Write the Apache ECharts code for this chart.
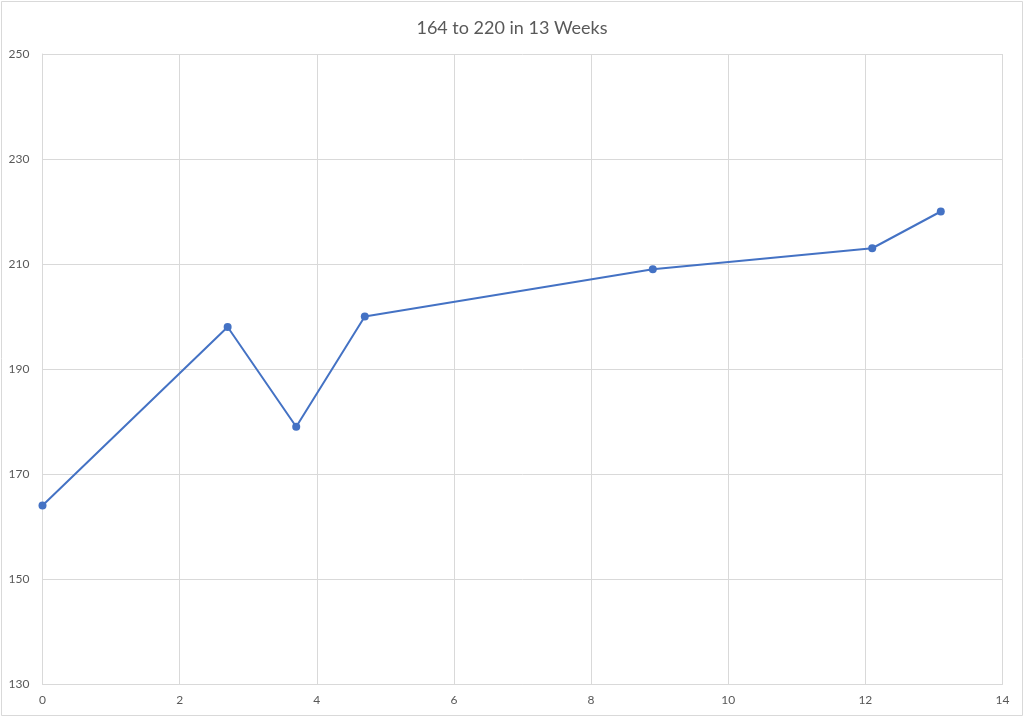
<!DOCTYPE html>
<html>
<head>
<meta charset="utf-8">
<script src="https://cdn.jsdelivr.net/npm/echarts@6/dist/echarts.min.js"></script>
<style>
html,body{margin:0;padding:0;background:#fff;}
#c{width:1024px;height:717px;}
</style>
</head>
<body>
<div id="c"></div>
<script>
const title = "164 to 220 in 13 Weeks";
const weeks = [0, 2.7, 3.7, 4.7, 8.9, 12.1, 13.1];
const weights = [164, 198, 179, 200, 209, 213, 220];

const chart = echarts.init(document.getElementById('c'), null, {renderer: 'canvas'});
const font = 'Lato, "Open Sans", "Liberation Sans", sans-serif';
chart.setOption({
  animation: false,
  backgroundColor: '#fff',
  title: {
    text: title, left: 'center', top: 14,
    textStyle: {fontFamily: font, fontSize: 18, fontWeight: 'normal', color: '#595959'}
  },
  graphic: [{
    type: 'rect', shape: {x: 1.5, y: 1.5, width: 1021, height: 714},
    style: {fill: 'none', stroke: '#d9d9d9', lineWidth: 1}, silent: true
  }],
  grid: {left: 42.5, right: 21.5, top: 54, bottom: 33, containLabel: false},
  xAxis: {
    type: 'value', min: 0, max: 14, interval: 2,
    axisLine: {show: true, lineStyle: {color: '#d9d9d9', width: 1}},
    axisTick: {show: false},
    splitLine: {show: true, lineStyle: {color: '#d9d9d9', width: 1}},
    axisLabel: {color: '#595959', fontFamily: font, fontSize: 12, margin: 10}
  },
  yAxis: {
    type: 'value', min: 130, max: 250, interval: 20,
    axisLine: {show: true, lineStyle: {color: '#d9d9d9', width: 1}},
    axisTick: {show: false},
    splitLine: {show: true, lineStyle: {color: '#d9d9d9', width: 1}},
    axisLabel: {color: '#595959', fontFamily: font, fontSize: 12, margin: 13}
  },
  series: [{
    type: 'line',
    data: weeks.map((w, i) => [w, weights[i]]),
    symbol: 'circle', symbolSize: 8,
    lineStyle: {color: '#4472C4', width: 2},
    itemStyle: {color: '#4472C4'}
  }]
});
</script>
</body>
</html>
